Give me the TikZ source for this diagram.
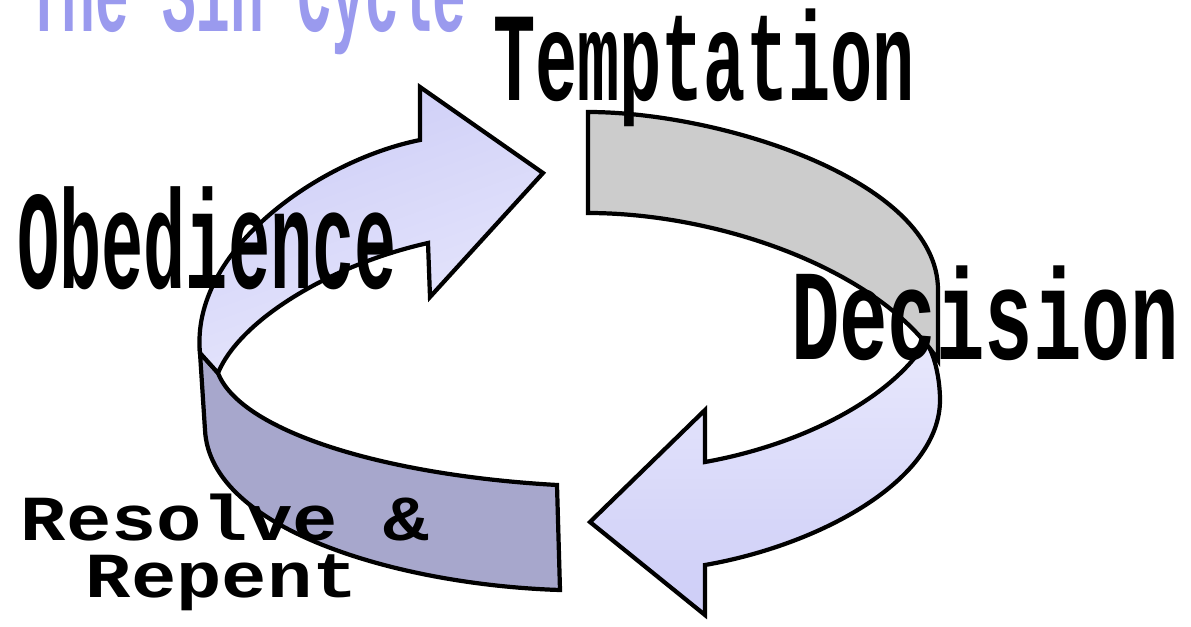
\documentclass[tikz,border=0pt]{standalone}
\usepackage{fontspec}
\setmonofont{Liberation Mono}
\begin{document}
\begin{tikzpicture}[x=0.02cm,y=-0.02cm,line width=2.4pt,line join=miter,
  lab/.style={font=\ttfamily\bfseries,inner sep=0pt}]
\useasboundingbox (0,0) rectangle (1191,626);
\clip (0,0) rectangle (1191,626);
\definecolor{lav}{HTML}{CDCDF7}
\definecolor{lavl}{HTML}{E8E8FC}
\definecolor{dband}{HTML}{A7A7CC}
\definecolor{gband}{HTML}{CCCCCC}
\definecolor{titlec}{HTML}{9A9AEE}
% right lavender arrow
\draw[top color=lavl,bottom color=lav] (926,342) .. controls (935,355) and (940,380) .. (940,400)
  .. controls (940,480) and (820,545) .. (705,565) -- (705,615) -- (590,522) -- (705,410) -- (705,462)
  .. controls (800,445) and (890,400) .. cycle;
% gray band
\draw[fill=gband] (588,112) -- (588,213) .. controls (720,213) and (880,270) .. (938,360)
  -- (938,290) .. controls (938,180) and (720,112) .. cycle;
% dark band
\draw[fill=dband] (200,353) -- (218,373) .. controls (240,430) and (380,475) .. (557,485)
  -- (560,590) .. controls (400,585) and (210,530) .. (205,430) -- cycle;
% upper-left lavender arrow
\draw[top color=lav,bottom color=lavl,shading angle=20] (200,353) .. controls (190,250) and (320,160) .. (420,140)
  -- (420,87) -- (543,173) -- (430,297) -- (428,243)
  .. controls (330,265) and (240,320) .. (218,373) -- cycle;
% texts
\node[lab,text=titlec,anchor=base,yscale=2,font=\ttfamily\bfseries\fontsize{32}{32}\selectfont] (title) at (247,31) {The Sin Cycle};
\node[lab,yscale=1.8,font=\ttfamily\bfseries\fontsize{40}{40}\selectfont] (tempt) at (704,68) {Temptation};
\node[lab,yscale=2,font=\ttfamily\bfseries\fontsize{40}{40}\selectfont] (obed) at (207,238) {Obedience};
\node[lab,yscale=1.6,font=\ttfamily\bfseries\fontsize{46}{46}\selectfont] (dec) at (985,313) {Decision};
\node[lab,yscale=0.85,font=\ttfamily\bfseries\fontsize{43}{43}\selectfont] (res) at (225,518) {Resolve \&};
\node[lab,yscale=0.85,font=\ttfamily\bfseries\fontsize{43}{43}\selectfont] (rep) at (222,583) {Repent};
\end{tikzpicture}
\end{document}
